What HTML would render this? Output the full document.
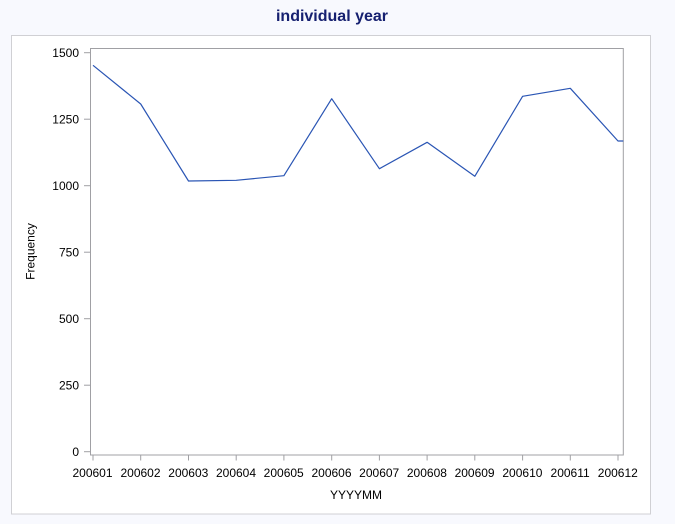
<!DOCTYPE html>
<html><head><meta charset="utf-8"><style>
html,body{margin:0;padding:0;background:#f8f9fe;}
svg{display:block;font-family:"Liberation Sans",Arial,sans-serif;}
</style></head><body>
<svg width="675" height="524" viewBox="0 0 675 524" xmlns="http://www.w3.org/2000/svg">
<rect x="0" y="0" width="675" height="524" fill="#f8f9fe"/>
<rect x="11.5" y="35.5" width="639" height="478.5" fill="#ffffff" stroke="#d0d0d4" stroke-width="1"/>
<text x="332" y="21" text-anchor="middle" font-size="16" font-weight="bold" fill="#162070">individual year</text>
<!-- plot area -->
<rect x="90.5" y="48.5" width="532.8" height="406.5" fill="#ffffff" stroke="#a0a0a4" stroke-width="1"/>
<!-- y ticks -->
<g stroke="#a0a0a4" stroke-width="1">
<line x1="84" y1="52.7" x2="90.5" y2="52.7"/>
<line x1="84" y1="119.2" x2="90.5" y2="119.2"/>
<line x1="84" y1="185.7" x2="90.5" y2="185.7"/>
<line x1="84" y1="252.2" x2="90.5" y2="252.2"/>
<line x1="84" y1="318.7" x2="90.5" y2="318.7"/>
<line x1="84" y1="385.2" x2="90.5" y2="385.2"/>
<line x1="84" y1="451.7" x2="90.5" y2="451.7"/>
</g>
<g font-size="12" fill="#000" text-anchor="end">
<text x="79" y="57">1500</text>
<text x="79" y="123.5">1250</text>
<text x="79" y="190">1000</text>
<text x="79" y="256.5">750</text>
<text x="79" y="323">500</text>
<text x="79" y="389.5">250</text>
<text x="79" y="456">0</text>
</g>
<!-- x ticks -->
<g stroke="#a0a0a4" stroke-width="1">
<line x1="93" y1="455" x2="93" y2="460.5"/>
<line x1="140.7" y1="455" x2="140.7" y2="460.5"/>
<line x1="188.5" y1="455" x2="188.5" y2="460.5"/>
<line x1="236.2" y1="455" x2="236.2" y2="460.5"/>
<line x1="283.9" y1="455" x2="283.9" y2="460.5"/>
<line x1="331.7" y1="455" x2="331.7" y2="460.5"/>
<line x1="379.4" y1="455" x2="379.4" y2="460.5"/>
<line x1="427.1" y1="455" x2="427.1" y2="460.5"/>
<line x1="474.8" y1="455" x2="474.8" y2="460.5"/>
<line x1="522.6" y1="455" x2="522.6" y2="460.5"/>
<line x1="570.3" y1="455" x2="570.3" y2="460.5"/>
<line x1="618" y1="455" x2="618" y2="460.5"/>
</g>
<g font-size="12" fill="#000" text-anchor="middle">
<text x="92.5" y="477">200601</text>
<text x="140.5" y="477">200602</text>
<text x="188.3" y="477">200603</text>
<text x="236" y="477">200604</text>
<text x="283.7" y="477">200605</text>
<text x="331.5" y="477">200606</text>
<text x="379.2" y="477">200607</text>
<text x="426.9" y="477">200608</text>
<text x="474.6" y="477">200609</text>
<text x="522.4" y="477">200610</text>
<text x="570.1" y="477">200611</text>
<text x="617.8" y="477">200612</text>
</g>
<text x="356" y="499" text-anchor="middle" font-size="12" fill="#000">YYYYMM</text>
<text transform="translate(34.5,251.5) rotate(-90)" text-anchor="middle" font-size="12" fill="#000">Frequency</text>
<!-- series -->
<polyline fill="none" stroke="#2a55b4" stroke-width="1.2" stroke-linejoin="round"
points="93,65.3 140.7,104 188.5,181 236.2,180.3 283.9,175.7 331.7,98.7 379.4,168.7 427.1,142.3 474.8,176.3 522.6,96.3 570.3,88.3 618,141 623.3,141"/>
</svg>
</body></html>
